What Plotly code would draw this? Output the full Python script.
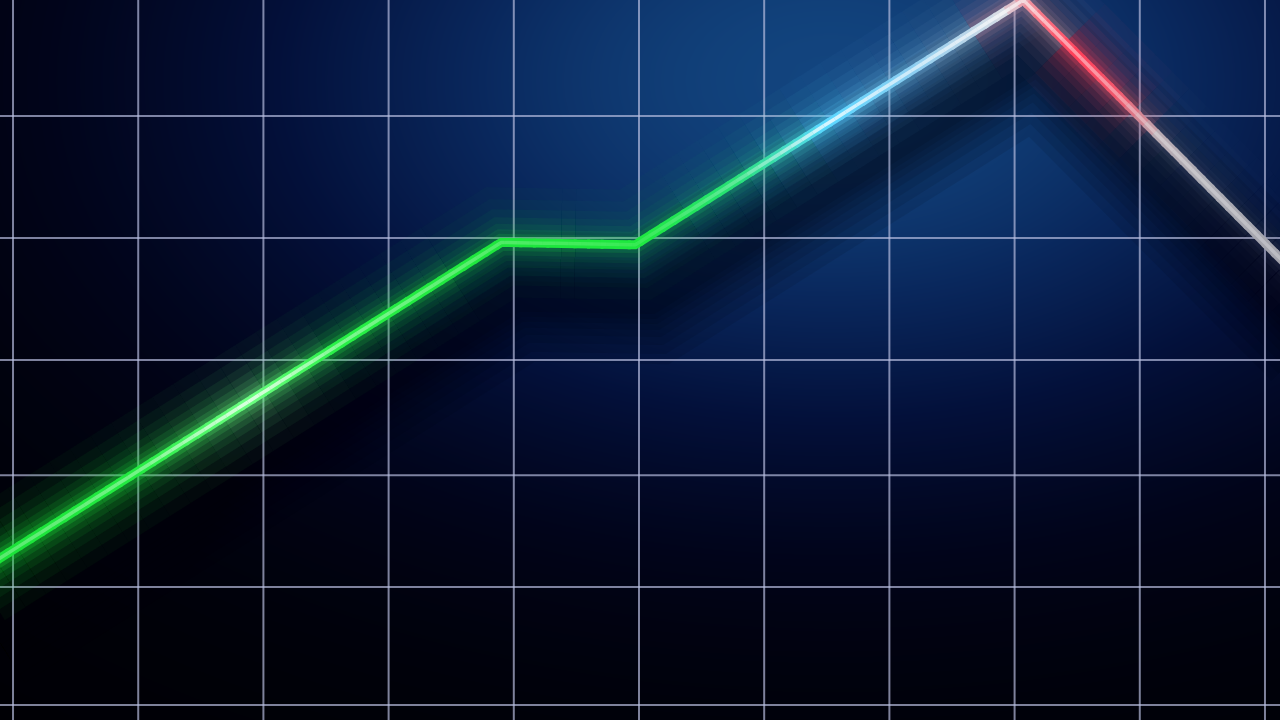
import numpy as np
import plotly.graph_objects as go

# ---- data (chart units) ----
x_pts = [-0.3, 3.9, 4.97, 8.07, 10.3]
y_pts = [1.22, 3.98, 3.96, 6.0, 3.66]

grid_x = [0, 1, 2, 3, 4, 5, 6, 7, 8, 9, 10]
grid_y = [0.125, 1.108, 2.04, 3.0, 4.017, 5.033]

X_RANGE = [-0.104, 10.12]
Y_RANGE = [0.0, 6.0]

# ---- colour stops along the line (style) ----
stops_x = [-0.3, 1.0, 1.9, 2.6, 3.9, 5.0, 5.8, 6.5, 7.2, 7.9, 8.2, 8.5, 8.85, 9.15, 9.5, 10.3]
stops_rgb = [(25, 225, 55), (35, 235, 65), (110, 255, 130), (40, 240, 70), (30, 230, 60),
             (30, 232, 62), (40, 225, 120), (90, 215, 255), (140, 205, 240), (215, 220, 228),
             (245, 120, 135), (255, 65, 90), (240, 90, 110), (185, 170, 178), (172, 172, 180),
             (160, 160, 170)]
stops_core = [0.35, 0.5, 1.0, 0.55, 0.3, 0.15, 0.35, 1.0, 0.75, 0.85, 0.75, 0.6, 0.5, 0.45, 0.4, 0.35]
stops_glow = [1.0, 0.95, 1.0, 0.8, 0.6, 0.5, 0.6, 1.0, 0.75, 0.55, 0.8, 1.0, 0.85, 0.35, 0.25, 0.2]

rgb_arr = np.array(stops_rgb, dtype=float)
PXU = 1280 / (X_RANGE[1] - X_RANGE[0])
PYU = 720 / (Y_RANGE[1] - Y_RANGE[0])


def col_at(x):
    r = np.interp(x, stops_x, rgb_arr[:, 0])
    g = np.interp(x, stops_x, rgb_arr[:, 1])
    b = np.interp(x, stops_x, rgb_arr[:, 2])
    return r, g, b, np.interp(x, stops_x, stops_core), np.interp(x, stops_x, stops_glow)


fig = go.Figure()

# ---- background gradient ----
bx = np.linspace(X_RANGE[0], X_RANGE[1], 81)
by = np.linspace(Y_RANGE[0], Y_RANGE[1], 46)
PX = (bx - X_RANGE[0]) * PXU
PY = 720 - (by - Y_RANGE[0]) * PYU
PXg, PYg = np.meshgrid(PX, PY)
z = np.exp(-(((PXg - 830) / 620) ** 2 + ((PYg - 80) / 380) ** 2))
fig.add_trace(go.Heatmap(
    x=bx, y=by, z=z, zsmooth="best", showscale=False, hoverinfo="skip",
    zmin=0, zmax=1,
    colorscale=[[0, "#000004"], [0.2, "#01041a"], [0.45, "#03103a"],
                [0.72, "#09275c"], [1.0, "#12447e"]],
))

# ---- soft shadow beneath the line ----
sx = [v + 0.12 for v in x_pts]
sy = [v - 0.45 for v in y_pts]
for w in [130, 110, 92, 76, 62, 50, 40, 30]:
    fig.add_trace(go.Scatter(x=sx, y=sy, mode="lines", hoverinfo="skip",
                             line=dict(color="rgba(0,2,10,0.095)", width=w)))

# ---- grid lines ----
vx, vy = [], []
for g in grid_x:
    vx += [g, g, None]
    vy += [Y_RANGE[0], Y_RANGE[1], None]
hx, hy = [], []
for g in grid_y:
    hx += [X_RANGE[0], X_RANGE[1], None]
    hy += [g, g, None]
for gx, gy in [(vx, vy), (hx, hy)]:
    fig.add_trace(go.Scatter(x=gx, y=gy, mode="lines", hoverinfo="skip",
                             line=dict(color="rgba(185,192,225,0.68)", width=2)))

# ---- glowing line: split the path by arc length into coloured pieces ----
xa = np.array(x_pts)
ya = np.array(y_pts)
seg_len = np.hypot(np.diff(xa) * PXU, np.diff(ya) * PYU)
cum = np.concatenate([[0], np.cumsum(seg_len)])
total = cum[-1]


def point_at(s):
    return np.interp(s, cum, xa), np.interp(s, cum, ya)


def make_pieces(step, clear, overlap):
    # piece boundaries only on straight stretches, away from the corners
    bounds = [0.0]
    for i in range(len(cum) - 1):
        a = cum[i] + (clear if i > 0 else 0)
        b = cum[i + 1] - (clear if i + 1 < len(cum) - 1 else 0)
        if b - a <= 0:
            mids = [0.5 * (cum[i] + cum[i + 1])]
        else:
            n = max(1, int(round((b - a) / step)))
            mids = list(np.linspace(a, b, n + 1))
        for m in mids:
            if m - bounds[-1] > 1.0 and total - m > 1.0:
                bounds.append(float(m))
    bounds.append(total)
    out = []
    for k in range(len(bounds) - 1):
        sa = max(0.0, bounds[k] - overlap)
        sb = min(total, bounds[k + 1] + overlap)
        inner = [c for c in cum if sa < c < sb]
        ss = [sa] + inner + [sb]
        px, py = point_at(np.array(ss))
        xm, _ = point_at(0.5 * (bounds[k] + bounds[k + 1]))
        out.append((list(px), list(py), xm))
    return out


glow_pieces = make_pieces(24.0, 60.0, 0.0)
main_pieces = make_pieces(13.0, 6.0, 1.5)
core_pieces = make_pieces(13.0, 3.0, 0.0)

for w, a in [(110, 0.04), (86, 0.055), (66, 0.07), (50, 0.09), (37, 0.12), (26, 0.16), (17, 0.25)]:
    for (px, py, xm) in glow_pieces:
        r, g, b, core, glow = col_at(xm)
        fig.add_trace(go.Scatter(x=px, y=py, mode="lines", hoverinfo="skip",
                                 line=dict(color=f"rgba({r:.0f},{g:.0f},{b:.0f},{a * glow:.3f})", width=w)))

for (px, py, xm) in main_pieces:
    r, g, b, core, glow = col_at(xm)
    fig.add_trace(go.Scatter(x=px, y=py, mode="lines", hoverinfo="skip",
                             line=dict(color=f"rgb({r:.0f},{g:.0f},{b:.0f})", width=9)))
for (px, py, xm) in core_pieces:
    r, g, b, core, glow = col_at(xm)
    m = 0.75
    fig.add_trace(go.Scatter(x=px, y=py, mode="lines", hoverinfo="skip",
                             line=dict(color=f"rgba({r + (255 - r) * m:.0f},{g + (255 - g) * m:.0f},"
                                             f"{b + (255 - b) * m:.0f},{core:.3f})", width=3.5)))

fig.update_layout(
    width=1280, height=720,
    margin=dict(l=0, r=0, t=0, b=0),
    showlegend=False,
    paper_bgcolor="#000004", plot_bgcolor="#000004",
    xaxis=dict(range=X_RANGE, visible=False, showgrid=False, zeroline=False, fixedrange=True),
    yaxis=dict(range=Y_RANGE, visible=False, showgrid=False, zeroline=False, fixedrange=True),
)

fig.write_html(
    "out.html",
    config={"displayModeBar": False, "staticPlot": True},
    post_script="document.body.style.margin='0';document.body.style.overflow='hidden';"
                "document.body.style.background='#000004';",
)
